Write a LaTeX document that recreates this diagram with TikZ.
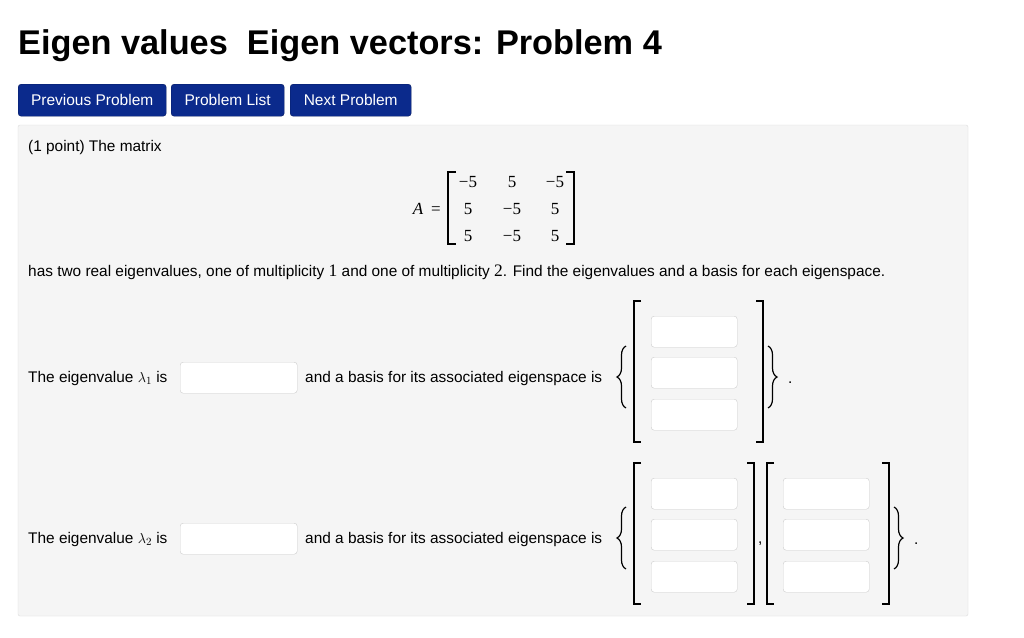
\documentclass[tikz,border=0pt]{standalone}
\usepackage{fontspec}
\setmainfont{Liberation Sans}
\newfontfamily\serifnum{Liberation Serif}
\usetikzlibrary{decorations.pathreplacing}
\definecolor{btn}{HTML}{0B2A8C}
\definecolor{panel}{HTML}{F5F5F5}
\definecolor{pborder}{HTML}{DDDDDD}
\definecolor{inb}{HTML}{CCCCCC}
\tikzset{
 btnbox/.style={fill=btn,draw=btn!70!black,rounded corners=3pt,text=white,font=\fontsize{15.5}{17}\selectfont,anchor=north west,minimum height=32pt,inner xsep=0pt},
 inbox/.style={draw=inb,fill=white,rounded corners=3pt,anchor=north west,minimum width=86pt,minimum height=31pt,inner sep=0pt},
 txt/.style={font=\fontsize{15.4}{17}\selectfont,anchor=base west,inner sep=0pt},
 mtx/.style={font=\serifnum\fontsize{17}{19}\selectfont,anchor=base,inner sep=0pt},
 brk/.style={line width=1.3pt},
 brc/.style={decorate,decoration={brace,amplitude=9pt},line width=1.2pt}
}
\begin{document}
\begin{tikzpicture}[x=1pt,y=-1pt]
\useasboundingbox (0,0) rectangle (1024,637);
\fill[white] (0,0) rectangle (1024,637);
\node[anchor=base west,inner sep=0pt,font=\bfseries\fontsize{34.3}{38}\selectfont] (title) at (18,54) {Eigen values\ \ Eigen vectors: Problem 4};
\node[btnbox,minimum width=148pt] (b1) at (18,84) {Previous Problem};
\node[btnbox,minimum width=113pt] (b2) at (171,84) {Problem List};
\node[btnbox,minimum width=121pt] (b3) at (290,84) {Next Problem};
\draw[pborder,fill=panel,rounded corners=2pt] (18,125) rectangle (968,616);
\node[txt] (t1) at (28,151) {(1 point) The matrix};
% matrix
\node[font=\serifnum\itshape\fontsize{17}{19}\selectfont,anchor=base,inner sep=0pt] (A) at (418,214) {A};
\node[mtx] (eq) at (436,214) {=};
\draw[brk] (456,172) -- (448,172) -- (448,244) -- (456,244);
\draw[brk] (566,172) -- (574,172) -- (574,244) -- (566,244);
\node[mtx] (m11) at (468,187) {−5};
\node[mtx] (m12) at (512,187) {5};
\node[mtx] (m13) at (555,187) {−5};
\node[mtx] (m21) at (468,214) {5};
\node[mtx] (m22) at (512,214) {−5};
\node[mtx] (m23) at (555,214) {5};
\node[mtx] (m31) at (468,241) {5};
\node[mtx] (m32) at (512,241) {−5};
\node[mtx] (m33) at (555,241) {5};
\node[txt] (t2) at (28,276) {has two real eigenvalues, one of multiplicity {\serifnum\fontsize{17.5}{19}\selectfont 1} and one of multiplicity {\serifnum\fontsize{17.5}{19}\selectfont 2}. Find the eigenvalues and a basis for each eigenspace.};
% row 1
\node[txt] (l1) at (28,382) {The eigenvalue $\lambda_1$ is};
\node[inbox,minimum width=117pt] (e1) at (180,362) {};
\node[txt] (a1) at (305,382) {and a basis for its associated eigenspace is};
\draw[brc] (626,408) -- (626,346);
\draw[brk] (641,301) -- (634,301) -- (634,442) -- (641,442);
\node[inbox] (v11) at (651,316) {};
\node[inbox] (v12) at (651,357) {};
\node[inbox] (v13) at (651,399) {};
\draw[brk] (756,301) -- (763,301) -- (763,442) -- (756,442);
\draw[brc] (768,346) -- (768,408);
\node[txt] (p1) at (788,383) {.};
% row 2
\node[txt] (l2) at (28,543) {The eigenvalue $\lambda_2$ is};
\node[inbox,minimum width=117pt] (e2) at (180,523) {};
\node[txt] (a2) at (305,543) {and a basis for its associated eigenspace is};
\draw[brc] (626,569) -- (626,507);
\draw[brk] (641,463) -- (634,463) -- (634,604) -- (641,604);
\node[inbox] (v21) at (651,478) {};
\node[inbox] (v22) at (651,519) {};
\node[inbox] (v23) at (651,561) {};
\draw[brk] (747,463) -- (754,463) -- (754,604) -- (747,604);
\node[txt] (c2) at (758,543) {,};
\draw[brk] (774,463) -- (767,463) -- (767,604) -- (774,604);
\node[inbox] (w21) at (783,478) {};
\node[inbox] (w22) at (783,519) {};
\node[inbox] (w23) at (783,561) {};
\draw[brk] (882,463) -- (889,463) -- (889,604) -- (882,604);
\draw[brc] (894,507) -- (894,569);
\node[txt] (p2) at (914,544) {.};
\end{tikzpicture}
\end{document}
